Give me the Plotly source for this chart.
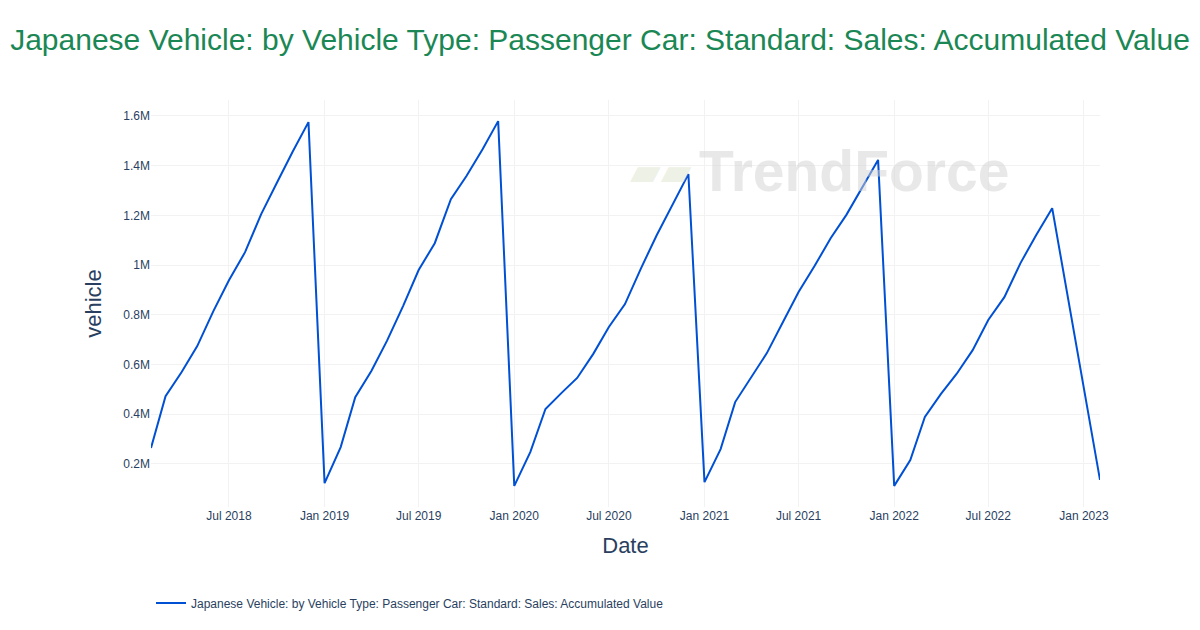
import plotly.graph_objects as go

dates = [
    "2018-02-01", "2018-03-01", "2018-04-01", "2018-05-01", "2018-06-01", "2018-07-01",
    "2018-08-01", "2018-09-01", "2018-10-01", "2018-11-01", "2018-12-01",
    "2019-01-01", "2019-02-01", "2019-03-01", "2019-04-01", "2019-05-01", "2019-06-01",
    "2019-07-01", "2019-08-01", "2019-09-01", "2019-10-01", "2019-11-01", "2019-12-01",
    "2020-01-01", "2020-02-01", "2020-03-01", "2020-04-01", "2020-05-01", "2020-06-01",
    "2020-07-01", "2020-08-01", "2020-09-01", "2020-10-01", "2020-11-01", "2020-12-01",
    "2021-01-01", "2021-02-01", "2021-03-01", "2021-04-01", "2021-05-01", "2021-06-01",
    "2021-07-01", "2021-08-01", "2021-09-01", "2021-10-01", "2021-11-01", "2021-12-01",
    "2022-01-01", "2022-02-01", "2022-03-01", "2022-04-01", "2022-05-01", "2022-06-01",
    "2022-07-01", "2022-08-01", "2022-09-01", "2022-10-01", "2022-11-01",
    "2023-02-01",
]
values = [
    264000, 473000, 570000, 674000, 815000, 939000,
    1052000, 1205000, 1330000, 1458000, 1575000,
    123000, 268000, 469000, 574000, 695000, 835000,
    980000, 1088000, 1265000, 1358000, 1466000, 1579000,
    112000, 249000, 421000, 486000, 546000, 643000,
    751000, 843000, 988000, 1120000, 1245000, 1366000,
    127000, 260000, 449000, 550000, 646000, 771000,
    892000, 997000, 1109000, 1202000, 1313000, 1423000,
    112000, 216000, 389000, 482000, 562000, 658000,
    779000, 871000, 1008000, 1120000, 1229000,
    136000,
]
series_name = "Japanese Vehicle: by Vehicle Type: Passenger Car: Standard: Sales: Accumulated Value"
y_tick_vals = [200000, 400000, 600000, 800000, 1000000, 1200000, 1400000, 1600000]
y_tick_text = ["0.2M", "0.4M", "0.6M", "0.8M", "1M", "1.2M", "1.4M", "1.6M"]

fig = go.Figure()
fig.add_trace(go.Scatter(
    x=dates, y=values, mode="lines", name=series_name,
    line=dict(color="#0050d4", width=2),
))

font_family = "Liberation Sans, Arial, sans-serif"
fig.update_layout(
    width=1200, height=630,
    paper_bgcolor="white", plot_bgcolor="white",
    margin=dict(l=151, r=100, t=100, b=123),
    font=dict(family=font_family, color="#2a3f5f", size=12),
    title=dict(text="Japanese Vehicle: by Vehicle Type: Passenger Car: Standard: Sales: Accumulated Value",
               x=0.5, xanchor="center", y=0.937, yanchor="middle",
               font=dict(size=30, color="#1a8754", family=font_family)),
    showlegend=True,
    legend=dict(orientation="h", x=0, xanchor="left", y=-0.2, yanchor="top",
                font=dict(size=12, color="#2a3f5f")),
    xaxis=dict(
        title=dict(text="Date", font=dict(size=22, color="#2a3f5f")),
        type="date", dtick="M6", tickformat="%b %Y",
        tick0="2018-01-01",
        range=["2018-02-01", "2023-02-01"],
        showgrid=True, gridcolor="#f2f2f2", gridwidth=1,
        zeroline=False, showline=False, ticks="",
    ),
    yaxis=dict(
        title=dict(text="vehicle", font=dict(size=22, color="#2a3f5f")),
        range=[27000, 1664000],
        tickvals=y_tick_vals, ticktext=y_tick_text,
        showgrid=True, gridcolor="#f2f2f2", gridwidth=1,
        zeroline=False, showline=False, ticks="",
    ),
)

fig.add_annotation(
    text="<b>TrendForce</b>", xref="paper", yref="paper",
    x=0.575, y=0.825, xanchor="left", yanchor="middle", showarrow=False,
    font=dict(size=57, color="rgba(210,210,210,0.5)", family=font_family),
)
fig.add_annotation(
    text="<b>▰▰</b>", xref="paper", yref="paper",
    x=0.503, y=0.825, xanchor="left", yanchor="middle", showarrow=False,
    font=dict(size=40, color="rgba(215,225,200,0.45)", family="DejaVu Sans"),
)

fig.write_html("out.html")
